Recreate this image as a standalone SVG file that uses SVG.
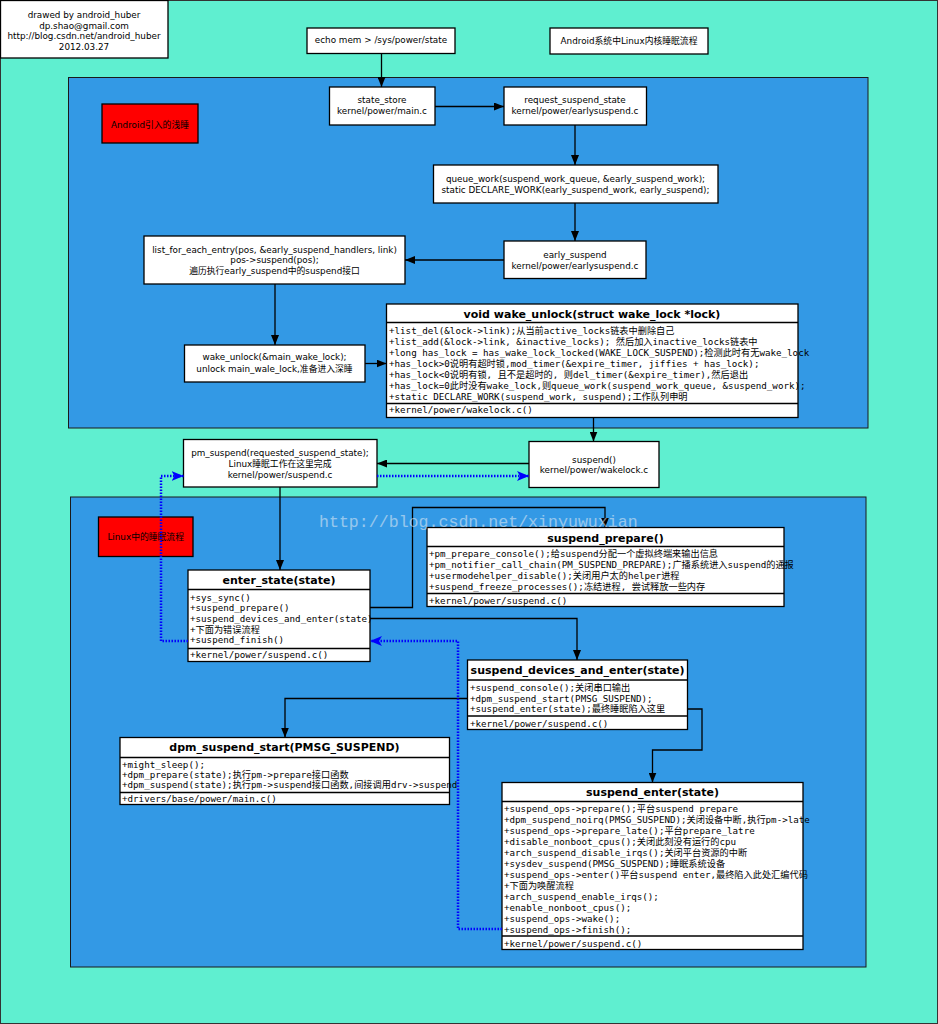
<svg xmlns="http://www.w3.org/2000/svg" width="938" height="1024" viewBox="0 0 938 1024">
<style>
.panel{fill:#3399E5;stroke:#1a1a1a;stroke-width:1}
.box{fill:#fff;stroke:#000;stroke-width:1.3}
.red{fill:#FF0000;stroke:#000;stroke-width:1.3}
.ln{stroke:#000;stroke-width:1.3}
.t{font-family:"DejaVu Sans","Noto Sans CJK SC",sans-serif;font-size:8.8px;text-anchor:middle;fill:#000}
.m{font-family:"DejaVu Sans Mono","Noto Sans CJK SC",monospace;font-size:9.2px;fill:#000}
.h{font-family:"DejaVu Sans","Noto Sans CJK SC",sans-serif;font-size:11px;font-weight:bold;text-anchor:middle;fill:#000}
.c{fill:none;stroke:#000;stroke-width:1.3}
.b{fill:none;stroke:#0000FF;stroke-width:2.5;stroke-dasharray:1.5 1.5}
.wm{font-family:"Liberation Mono",monospace;font-size:16.6px;fill:#E8EEF4;opacity:0.55}
</style>
<defs>
<marker id="ah" markerUnits="userSpaceOnUse" markerWidth="10" markerHeight="8" refX="10" refY="4" orient="auto">
<path d="M0,0 L10,4 L0,8 z" fill="#000"/>
</marker>
<marker id="bh" markerUnits="userSpaceOnUse" markerWidth="13" markerHeight="11" refX="12" refY="5" orient="auto">
<path d="M0,0 L12,5 L0,10 L3,5 z" fill="#0000FF"/>
</marker>
</defs>
<rect x="0" y="0" width="938" height="1024" fill="#5FEFD0"/>
<rect x="0.5" y="0.5" width="937" height="1023" fill="none" stroke="#333" stroke-width="1"/>
<rect class="panel" x="68.5" y="77.5" width="799.5" height="350.5"/>
<rect class="panel" x="70.5" y="497" width="795.5" height="470"/>

<g id="info">
<rect class="box" x="0.5" y="0.5" width="167.5" height="57.5"/>
<text class="t" x="84" y="18">drawed by android_huber</text>
<text class="t" x="84" y="28.5">dp.shao@gmail.com</text>
<text class="t" x="84" y="39">http://blog.csdn.net/android_huber</text>
<text class="t" x="84" y="49.6">2012.03.27</text>
</g>
<g id="echo">
<rect class="box" x="307" y="28" width="148" height="25.5"/>
<text class="t" x="381" y="43.3">echo mem &gt; /sys/power/state</text>
</g>
<g id="title">
<rect class="box" x="550" y="28" width="158" height="26"/>
<text class="t" x="629" y="44">Android系统中Linux内核睡眠流程</text>
</g>
<g id="state_store">
<rect class="box" x="329.5" y="87" width="105.5" height="38"/>
<text class="t" x="382" y="103.2">state_store</text>
<text class="t" x="382" y="114">kernel/power/main.c</text>
</g>
<g id="request_suspend_state">
<rect class="box" x="504" y="87" width="142.5" height="38"/>
<text class="t" x="575" y="103.2">request_suspend_state</text>
<text class="t" x="575" y="114">kernel/power/earlysuspend.c</text>
</g>
<g id="android_label">
<rect class="red" x="102" y="104" width="96" height="39"/>
<text class="t" x="150" y="127.5">Android引入的浅睡</text>
</g>
<g id="queue_work">
<rect class="box" x="433.5" y="165" width="284.5" height="38"/>
<text class="t" x="575.5" y="181.5">queue_work(suspend_work_queue, &amp;early_suspend_work);</text>
<text class="t" x="575.5" y="192.5">static DECLARE_WORK(early_suspend_work, early_suspend);</text>
</g>
<g id="early_suspend">
<rect class="box" x="504" y="241" width="142" height="37.5"/>
<text class="t" x="575" y="257.8">early_suspend</text>
<text class="t" x="575" y="268.8">kernel/power/earlysuspend.c</text>
</g>
<g id="list_for_each">
<rect class="box" x="144" y="236" width="261" height="48"/>
<text class="t" x="274.5" y="252.7">list_for_each_entry(pos, &amp;early_suspend_handlers, link)</text>
<text class="t" x="274.5" y="263.2">pos-&gt;suspend(pos);</text>
<text class="t" x="274.5" y="273.8">遍历执行early_suspend中的suspend接口</text>
</g>
<g id="wake_unlock_main">
<rect class="box" x="184.5" y="345" width="180.5" height="37"/>
<text class="t" x="274.5" y="360">wake_unlock(&amp;main_wake_lock);</text>
<text class="t" x="274.5" y="371.8">unlock main_wale_lock,准备进入深睡</text>
</g>
<g id="wake_unlock_class">
<rect class="box" x="386.5" y="304" width="411.5" height="113.5"/>
<line class="ln" x1="386.5" y1="322.5" x2="798" y2="322.5"/>
<line class="ln" x1="386.5" y1="403.5" x2="798" y2="403.5"/>
<text class="h" x="592" y="318">void wake_unlock(struct wake_lock *lock)</text>
<text class="m" x="389" y="334">+list_del(&amp;lock-&gt;link);从当前active_locks链表中删除自己</text>
<text class="m" x="389" y="345">+list_add(&amp;lock-&gt;link, &amp;inactive_locks); 然后加入inactive_locks链表中</text>
<text class="m" x="389" y="356">+long has_lock = has_wake_lock_locked(WAKE_LOCK_SUSPEND);检测此时有无wake_lock</text>
<text class="m" x="389" y="367">+has_lock&gt;0说明有超时锁,mod_timer(&amp;expire_timer, jiffies + has_lock);</text>
<text class="m" x="389" y="378">+has_lock&lt;0说明有锁, 且不是超时的, 则del_timer(&amp;expire_timer),然后退出</text>
<text class="m" x="389" y="389">+has_lock=0此时没有wake_lock,则queue_work(suspend_work_queue, &amp;suspend_work);</text>
<text class="m" x="389" y="400">+static DECLARE_WORK(suspend_work, suspend);工作队列申明</text>
<text class="m" x="389" y="413.3">+kernel/power/wakelock.c()</text>
</g>
<g id="pm_suspend">
<rect class="box" x="183.5" y="439.5" width="193.5" height="47.5"/>
<text class="t" x="280" y="455.8">pm_suspend(requested_suspend_state);</text>
<text class="t" x="280" y="466.7">Linux睡眠工作在这里完成</text>
<text class="t" x="280" y="477.5">kernel/power/suspend.c</text>
</g>
<g id="suspend">
<rect class="box" x="529" y="441.5" width="130" height="46"/>
<text class="t" x="594" y="462.5">suspend()</text>
<text class="t" x="594" y="473.3">kernel/power/wakelock.c</text>
</g>
<g id="linux_label">
<rect class="red" x="98.5" y="517" width="94.5" height="39.5"/>
<text class="t" x="145.7" y="540">Linux中的睡眠流程</text>
</g>
<g id="suspend_prepare">
<rect class="box" x="427" y="527.5" width="357" height="79"/>
<line class="ln" x1="427" y1="546.5" x2="784" y2="546.5"/>
<line class="ln" x1="427" y1="593.5" x2="784" y2="593.5"/>
<text class="h" x="605.5" y="542">suspend_prepare()</text>
<text class="m" x="429" y="556.6">+pm_prepare_console();给suspend分配一个虚拟终端来输出信息</text>
<text class="m" x="429" y="567.6">+pm_notifier_call_chain(PM_SUSPEND_PREPARE);广播系统进入suspend的通报</text>
<text class="m" x="429" y="578.8">+usermodehelper_disable();关闭用户太的helper进程</text>
<text class="m" x="429" y="589.8">+suspend_freeze_processes();冻结进程, 尝试释放一些内存</text>
<text class="m" x="429" y="604">+kernel/power/suspend.c()</text>
</g>
<g id="enter_state">
<rect class="box" x="188" y="570" width="182" height="91.5"/>
<line class="ln" x1="188" y1="589.5" x2="370" y2="589.5"/>
<line class="ln" x1="188" y1="648.5" x2="370" y2="648.5"/>
<text class="h" x="279" y="584">enter_state(state)</text>
<text class="m" x="190" y="600.6">+sys_sync()</text>
<text class="m" x="190" y="611.2">+suspend_prepare()</text>
<text class="m" x="190" y="621.9">+suspend_devices_and_enter(state)</text>
<text class="m" x="190" y="632.6">+下面为错误流程</text>
<text class="m" x="190" y="643.4">+suspend_finish()</text>
<text class="m" x="190" y="657.8">+kernel/power/suspend.c()</text>
</g>
<g id="suspend_devices_and_enter">
<rect class="box" x="467.5" y="660" width="220" height="69.5"/>
<line class="ln" x1="467.5" y1="680" x2="687.5" y2="680"/>
<line class="ln" x1="467.5" y1="716" x2="687.5" y2="716"/>
<text class="h" x="577.5" y="674">suspend_devices_and_enter(state)</text>
<text class="m" x="470" y="690.6">+suspend_console();关闭串口输出</text>
<text class="m" x="470" y="701.6">+dpm_suspend_start(PMSG_SUSPEND);</text>
<text class="m" x="470" y="712.3">+suspend_enter(state);最终睡眠陷入这里</text>
<text class="m" x="470" y="726.6">+kernel/power/suspend.c()</text>
</g>
<g id="dpm_suspend_start">
<rect class="box" x="120" y="737.5" width="329.5" height="67"/>
<line class="ln" x1="120" y1="757.5" x2="449.5" y2="757.5"/>
<line class="ln" x1="120" y1="792.5" x2="449.5" y2="792.5"/>
<text class="h" x="284.5" y="751.3">dpm_suspend_start(PMSG_SUSPEND)</text>
<text class="m" x="122" y="767.6">+might_sleep();</text>
<text class="m" x="122" y="777.8">+dpm_prepare(state);执行pm-&gt;prepare接口函数</text>
<text class="m" x="122" y="788.4">+dpm_suspend(state);执行pm-&gt;suspend接口函数,间接调用drv-&gt;suspend</text>
<text class="m" x="122" y="802.3">+drivers/base/power/main.c()</text>
</g>
<g id="suspend_enter">
<rect class="box" x="502" y="782.5" width="301" height="167"/>
<line class="ln" x1="502" y1="801.5" x2="803" y2="801.5"/>
<line class="ln" x1="502" y1="936" x2="803" y2="936"/>
<text class="h" x="652.5" y="795.8">suspend_enter(state)</text>
<text class="m" x="504" y="811.6">+suspend_ops-&gt;prepare();平台suspend prepare</text>
<text class="m" x="504" y="822.6">+dpm_suspend_noirq(PMSG_SUSPEND);关闭设备中断,执行pm-&gt;late</text>
<text class="m" x="504" y="833.6">+suspend_ops-&gt;prepare_late();平台prepare_latre</text>
<text class="m" x="504" y="844.6">+disable_nonboot_cpus();关闭此刻没有运行的cpu</text>
<text class="m" x="504" y="855.6">+arch_suspend_disable_irqs();关闭平台资源的中断</text>
<text class="m" x="504" y="866.6">+sysdev_suspend(PMSG_SUSPEND);睡眠系统设备</text>
<text class="m" x="504" y="877.6">+suspend_ops-&gt;enter()平台suspend enter,最终陷入此处汇编代码</text>
<text class="m" x="504" y="888.6">+下面为唤醒流程</text>
<text class="m" x="504" y="899.6">+arch_suspend_enable_irqs();</text>
<text class="m" x="504" y="910.6">+enable_nonboot_cpus();</text>
<text class="m" x="504" y="921.6">+suspend_ops-&gt;wake();</text>
<text class="m" x="504" y="932.6">+suspend_ops-&gt;finish();</text>
<text class="m" x="504" y="946.6">+kernel/power/suspend.c()</text>
</g>

<g id="connectors">
<path class="c" d="M381.5,53.5 V87" marker-end="url(#ah)"/>
<path class="c" d="M435,106.5 H504" marker-end="url(#ah)"/>
<path class="c" d="M575,125 V165" marker-end="url(#ah)"/>
<path class="c" d="M575,203 V241" marker-end="url(#ah)"/>
<path class="c" d="M504,260 H405" marker-end="url(#ah)"/>
<path class="c" d="M275,284 V345" marker-end="url(#ah)"/>
<path class="c" d="M365,363.5 H386.5" marker-end="url(#ah)"/>
<path class="c" d="M593.5,417.5 V441.5" marker-end="url(#ah)"/>
<path class="c" d="M529,463.5 H377" marker-end="url(#ah)"/>
<path class="c" d="M280,487 V570" marker-end="url(#ah)"/>
<path class="c" d="M370,607.5 H412.5 V507.5 H605 V527.5" marker-end="url(#ah)"/>
<path class="c" d="M370,618.5 H577 V660" marker-end="url(#ah)"/>
<path class="c" d="M467.5,698.5 H285 V737.5" marker-end="url(#ah)"/>
<path class="c" d="M687.5,709 H702 V750 H652.5 V782.5" marker-end="url(#ah)"/>
<path class="b" d="M377,476 H529" marker-end="url(#bh)"/>
<path class="b" d="M188,641 H161 V476 H183.5" marker-end="url(#bh)"/>
<path class="b" d="M502,929 H458 V641 H370" marker-end="url(#bh)"/>
</g>
<text class="wm" x="319" y="527">http://blog.csdn.net/xinyuwuxian</text>
</svg>
